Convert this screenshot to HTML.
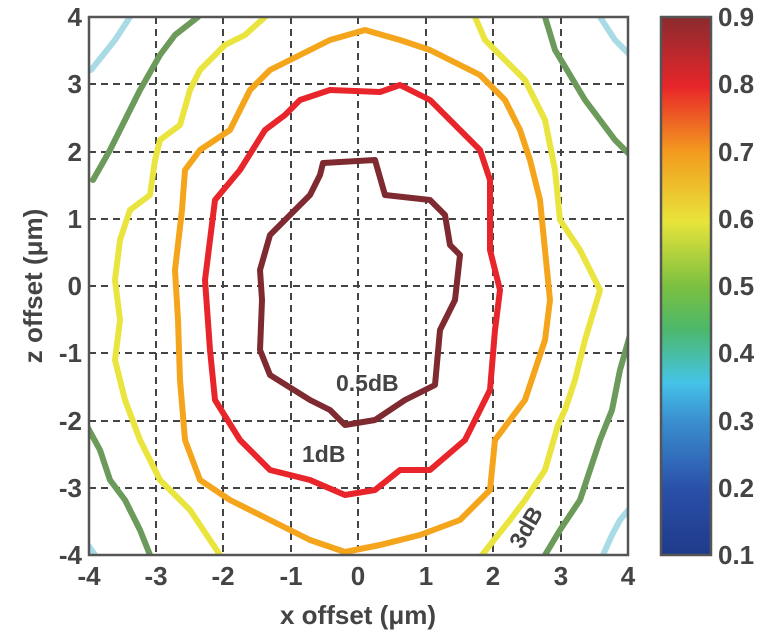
<!DOCTYPE html>
<html><head><style>
html,body{margin:0;padding:0;background:#fff;}
svg{display:block;}
text{font-family:"Liberation Sans",sans-serif;font-weight:bold;fill:#444;}
</style></head><body>
<svg width="768" height="639" viewBox="0 0 768 639" xmlns="http://www.w3.org/2000/svg">
<defs>
<linearGradient id="cb" x1="0" y1="1" x2="0" y2="0">
<stop offset="0" stop-color="#1f3a8a"/>
<stop offset="0.12" stop-color="#2a4fa8"/>
<stop offset="0.25" stop-color="#3a8fd0"/>
<stop offset="0.32" stop-color="#45c3e8"/>
<stop offset="0.42" stop-color="#4cb86a"/>
<stop offset="0.5" stop-color="#7cc040"/>
<stop offset="0.62" stop-color="#e8e43a"/>
<stop offset="0.75" stop-color="#f39a1e"/>
<stop offset="0.87" stop-color="#e8262a"/>
<stop offset="1" stop-color="#8a2a2e"/>
</linearGradient>
<clipPath id="pc"><rect x="89" y="17" width="539" height="538"/></clipPath>
</defs>
<g stroke="#444" stroke-width="2" stroke-dasharray="7,5" fill="none">
<path d="M156 17V555M223 17V555M291 17V555M358 17V555M426 17V555M493 17V555M561 17V555"/>
<path d="M89 84H628M89 152H628M89 219H628M89 286H628M89 353H628M89 421H628M89 488H628"/>
</g>
<g clip-path="url(#pc)" fill="none" stroke-width="6" stroke-linejoin="round" stroke-linecap="round">
<path stroke="#a8dbe6" d="M130 17L115 40L91 70M88 545L95 555M600 17L615 40L630 55M603 555L612 535L620 520L630 508"/>
<path stroke="#6b9a5a" d="M198 17L175 35L160 55L140 90L125 120L110 150L93 180M88 428L100 450L110 480L125 500L140 530L150 555M545 17L555 50L570 75L585 100L600 120L615 140L630 155M630 335L620 370L612 410L600 440L590 470L580 500L570 515L560 530L545 555"/>
<path stroke="#e9e53e" d="M265 17L245 35L225 45L200 70L190 90L180 125L160 140L155 160L150 195L130 210L120 240L115 280L120 320L115 360L125 400L140 440L160 480L190 510L220 555M475 17L485 40L505 60L525 80L545 120L555 170L560 220L580 250L600 290L585 340L575 380L565 410L558 425L545 470L525 500L510 520L490 545L482 555"/>
<path stroke="#f5a51c" d="M330 40L365 30L400 40L430 50L480 75L505 100L520 130L530 160L540 200L545 250L550 300L545 340L535 370L525 400L510 420L495 440L490 490L460 520L420 535L380 545L345 552L310 540L270 520L230 500L200 480L185 440L180 380L178 320L175 270L182 210L185 170L200 150L230 130L250 90L270 70L300 55Z"/>
<path stroke="#e8252a" d="M330 90L380 92L400 85L430 100L460 130L480 150L490 180L490 250L500 290L495 330L490 390L465 440L430 470L400 470L375 490L345 495L310 480L270 470L240 440L215 400L210 350L205 280L210 240L215 200L240 170L265 130L285 115L300 100Z"/>
<path stroke="#7e2a30" d="M323 163L375 160L385 195L430 200L445 215L450 245L460 255L455 300L440 330L435 385L405 400L375 420L345 425L330 410L310 400L270 375L260 350L262 300L260 270L270 235L285 220L310 195L320 175Z"/>
</g>
<rect x="89" y="17" width="539" height="538" fill="none" stroke="#555" stroke-width="2.5"/>
<text x="336" y="391" font-size="23">0.5dB</text>
<text x="302" y="462" font-size="23">1dB</text>
<text x="0" y="0" font-size="23" transform="translate(522,550) rotate(-60)">3dB</text>
<g font-size="26" text-anchor="middle">
<text x="89" y="585">-4</text><text x="156" y="585">-3</text><text x="223" y="585">-2</text><text x="291" y="585">-1</text><text x="358" y="585">0</text><text x="426" y="585">1</text><text x="493" y="585">2</text><text x="561" y="585">3</text><text x="628" y="585">4</text>
</g>
<g font-size="26" text-anchor="end">
<text x="82" y="26">4</text><text x="82" y="93">3</text><text x="82" y="161">2</text><text x="82" y="228">1</text><text x="82" y="295">0</text><text x="82" y="362">-1</text><text x="82" y="430">-2</text><text x="82" y="497">-3</text><text x="82" y="564">-4</text>
</g>
<text x="358" y="624" font-size="26" text-anchor="middle">x offset (μm)</text>
<text x="0" y="0" font-size="26" text-anchor="middle" transform="translate(42,286) rotate(-90)">z offset (μm)</text>
<rect x="661" y="17" width="50" height="538" fill="url(#cb)" stroke="#555" stroke-width="2.5"/>
<g font-size="26">
<text x="718" y="26">0.9</text><text x="718" y="93">0.8</text><text x="718" y="161">0.7</text><text x="718" y="228">0.6</text><text x="718" y="295">0.5</text><text x="718" y="362">0.4</text><text x="718" y="430">0.3</text><text x="718" y="497">0.2</text><text x="718" y="564">0.1</text>
</g>
</svg>
</body></html>
